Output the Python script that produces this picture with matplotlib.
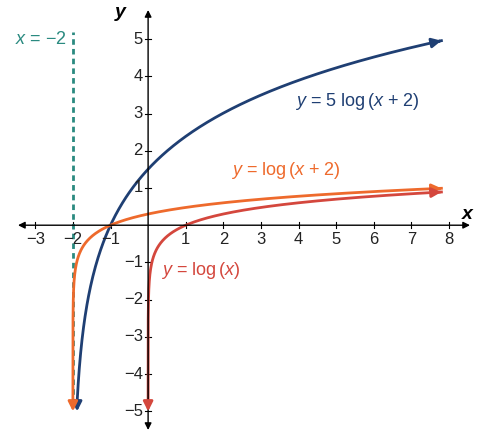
import numpy as np
import matplotlib
matplotlib.use("Agg")
import matplotlib.pyplot as plt

plt.rcParams['font.family'] = ['Liberation Sans', 'DejaVu Sans']
plt.rcParams['mathtext.fontset'] = 'custom'
plt.rcParams['mathtext.it'] = 'Liberation Sans:italic'
plt.rcParams['mathtext.rm'] = 'Liberation Sans'

xticks = [-3, -2, -1, 1, 2, 3, 4, 5, 6, 7, 8]
yticks = [-5, -4, -3, -2, -1, 1, 2, 3, 4, 5]
x_end = 7.8
asym = -2

blue = "#1f3f73"; orange = "#ee6a2c"; red = "#d4473d"; teal = "#2a8a80"

fig = plt.figure(figsize=(4.87, 4.41), dpi=100)
ax = fig.add_axes([18/487, 11/441, (470-18)/487, (430-10)/441])
ax.set_xlim(-3.46, 8.56)
ax.set_ylim(-5.5, 5.78)
ax.axis("off")

ax.annotate("", xy=(8.56, 0), xytext=(-3.46, 0), arrowprops=dict(arrowstyle="<|-|>", color="black", lw=1, mutation_scale=10, shrinkA=0, shrinkB=0))
ax.annotate("", xy=(0, 5.78), xytext=(0, -5.5), arrowprops=dict(arrowstyle="<|-|>", color="black", lw=1, mutation_scale=10, shrinkA=0, shrinkB=0))
for t in xticks:
    ax.plot([t, t], [-0.08, 0.08], color="black", lw=0.8)
    ax.text(t, -0.18, str(t).replace("-", "\u2212"), ha="center", va="top", fontsize=12, color="#222")
for t in yticks:
    ax.plot([-0.08, 0.08], [t, t], color="black", lw=0.8)
    ax.text(-0.14, t, str(t).replace("-", "\u2212"), ha="right", va="center", fontsize=12, color="#222")
ax.text(8.5, 0.05, "x", fontsize=14, fontweight="bold", style="italic", ha="center", va="bottom")
ax.text(-0.75, 5.7, "y", fontsize=14, fontweight="bold", style="italic", ha="center", va="center")

ax.plot([asym, asym], [-4.8, 5.2], color=teal, lw=2, ls=(0, (2, 1.5)))
ax.text(-2.15, 5.0, r"$x$ = $-$2", color=teal, fontsize=13, va="center", ha="right")

def draw(f, x0, color):
    x = np.concatenate([np.geomspace(1e-9, 0.5, 400), np.linspace(0.5, x_end - x0, 400)]) + x0
    y = f(x)
    m = y >= -4.75
    x, y = x[m], y[m]
    ax.plot(x, y, color=color, lw=2)
    ap = dict(arrowstyle="-|>", color=color, lw=2, mutation_scale=14, shrinkA=0, shrinkB=0)
    ax.annotate("", xy=(x[-1], y[-1]), xytext=(x[-3], y[-3]), arrowprops=ap)
    ax.annotate("", xy=(x[0], -5.0), xytext=(x[0], y[0]), arrowprops=ap)

draw(lambda x: 5*np.log10(x + 2), -2 + 10**(-1.0), blue)
draw(lambda x: np.log10(x + 2), -2 + 1e-5, orange)
draw(lambda x: np.log10(x), 1e-5, red)

ax.text(3.9, 3.2, r"$y$ = 5 log$\,(x$ + 2)", color=blue, fontsize=13)
ax.text(2.2, 1.35, r"$y$ = log$\,(x$ + 2)", color=orange, fontsize=13)
ax.text(0.35, -1.35, r"$y$ = log$\,(x)$", color=red, fontsize=13)

fig.savefig("out.png", dpi=100)
